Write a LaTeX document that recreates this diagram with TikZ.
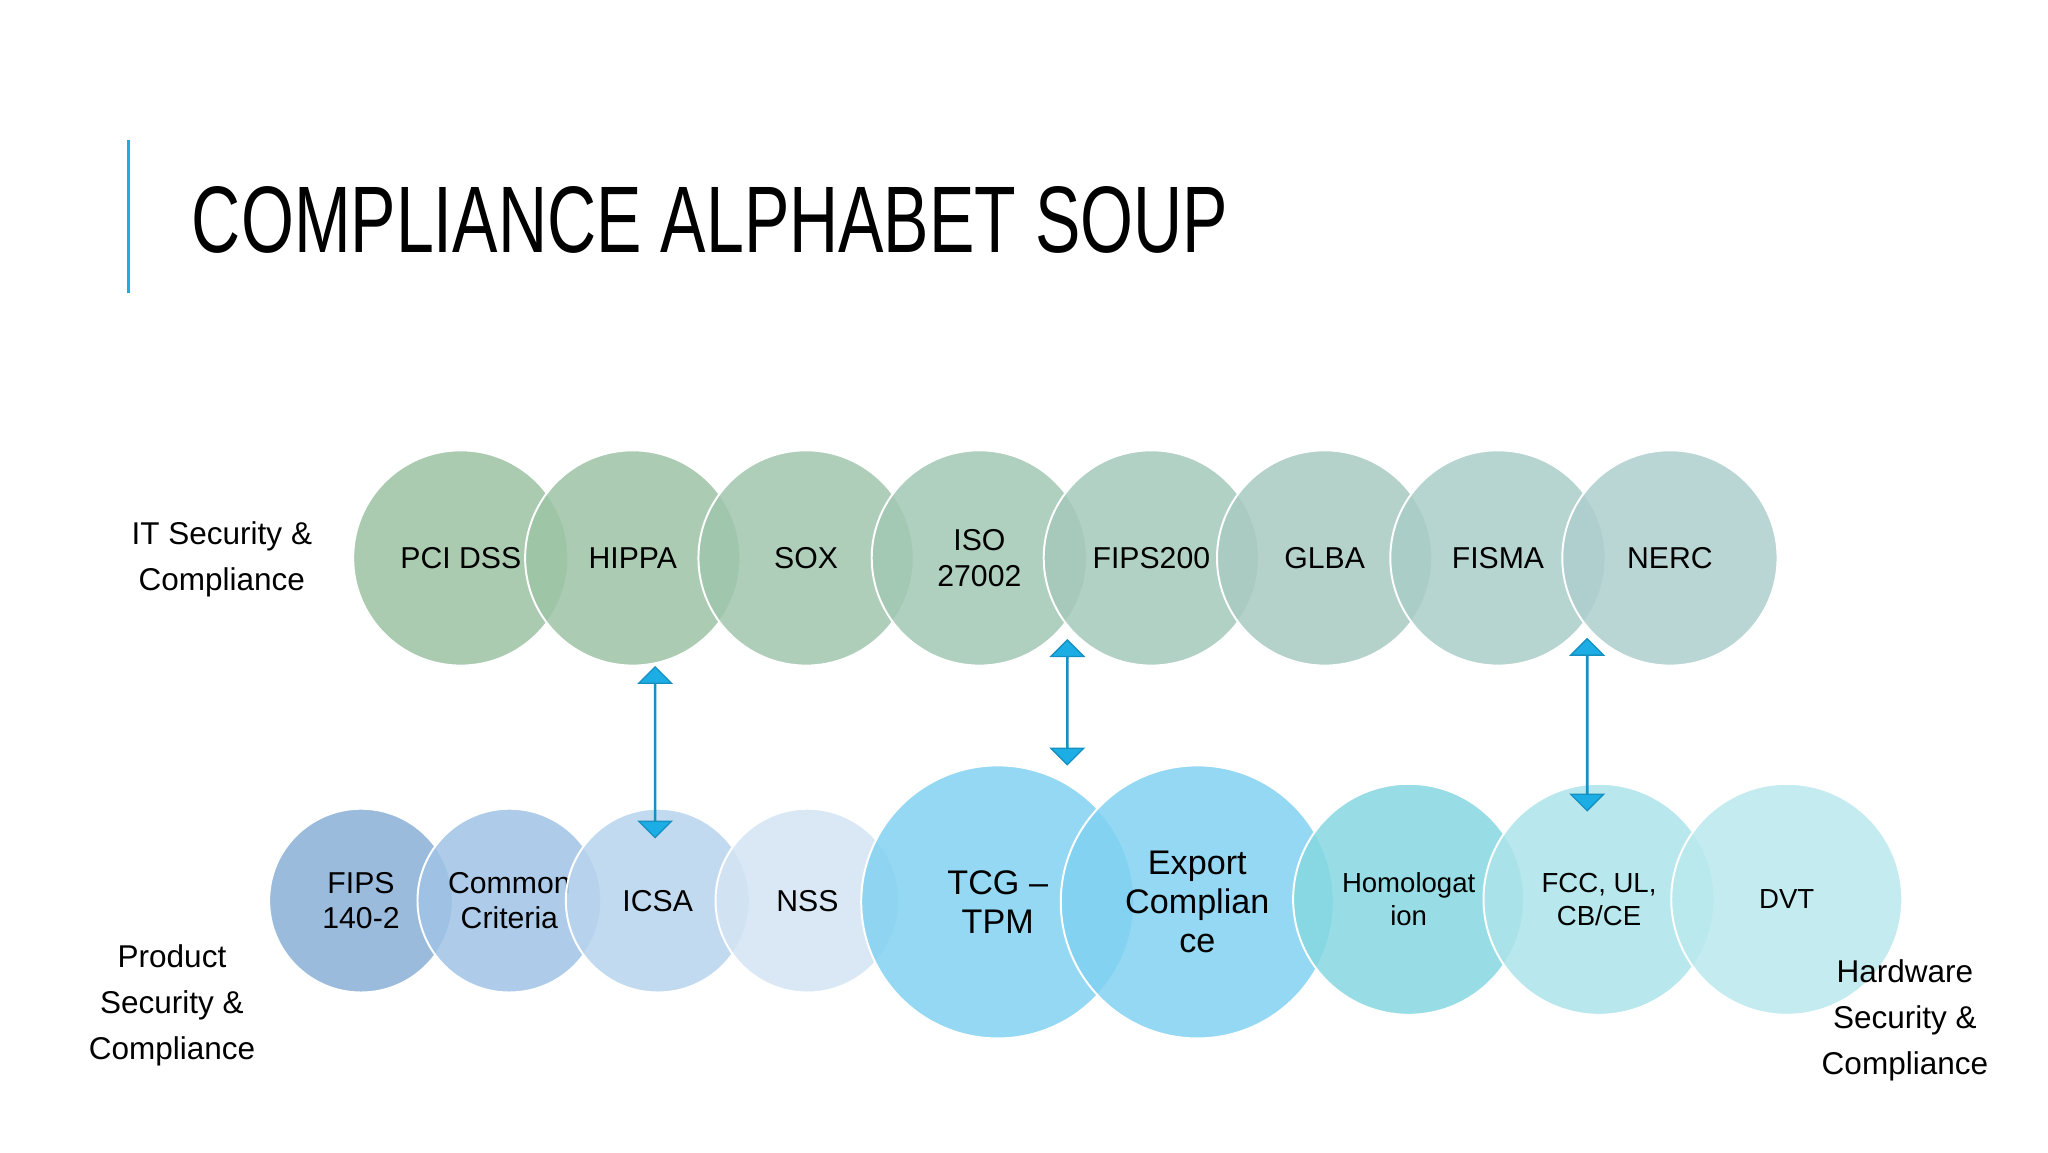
\documentclass[tikz,border=0pt]{standalone}
\usepackage{fontspec}
\setmainfont{Liberation Sans}
\usetikzlibrary{shapes.arrows}
\definecolor{arr}{HTML}{1CADE4}
\definecolor{arrd}{HTML}{1690C0}
\begin{document}
\begin{tikzpicture}[x=1pt,y=-1pt,
  circ/.style={circle,draw=white,line width=1.5pt,fill opacity=0.85,text opacity=1,align=center,font=\fontsize{23}{27}\selectfont,inner sep=0pt},
  lab/.style={align=center,font=\fontsize{24}{35}\selectfont},
  dbl/.style={draw=arrd,fill=arr,line width=1pt}]
\useasboundingbox (0,0) rectangle (1560,878);
\fill[white] (0,0) rectangle (1560,878);
\draw[arr,line width=2.5pt] (98,107) -- (98,223);
\node[anchor=base west,inner sep=0pt,font=\fontsize{72}{72}\selectfont] (title) at (146,192) {\scalebox{0.72}[1]{COMPLIANCE ALPHABET SOUP}};
% top circles
\def\R{164}
\node[circ,minimum size=\R,fill={rgb,255:red,157;green,195;blue,164}] (c1) at (351,425) {PCI DSS};
\node[circ,minimum size=\R,fill={rgb,255:red,157;green,196;blue,166}] (c2) at (482,425) {HIPPA};
\node[circ,minimum size=\R,fill={rgb,255:red,160;green,198;blue,174}] (c3) at (614,425) {SOX};
\node[circ,minimum size=\R,fill={rgb,255:red,162;green,199;blue,180}] (c4) at (746,425) {ISO\\27002};
\node[circ,minimum size=\R,fill={rgb,255:red,165;green,201;blue,187}] (c5) at (877,425) {FIPS200};
\node[circ,minimum size=\R,fill={rgb,255:red,168;green,203;blue,193}] (c6) at (1009,425) {GLBA};
\node[circ,minimum size=\R,fill={rgb,255:red,170;green,205;blue,200}] (c7) at (1141,425) {FISMA};
\node[circ,minimum size=\R,fill={rgb,255:red,173;green,207;blue,206}] (c8) at (1272,425) {NERC};
% bottom circles
\node[circ,minimum size=140,fill={rgb,255:red,138;green,176;blue,215}] (b1) at (275,686) {FIPS\\140-2};
\node[circ,minimum size=140,fill={rgb,255:red,160;green,196;blue,230}] (b2) at (388,686) {Common\\Criteria};
\node[circ,minimum size=140,fill={rgb,255:red,184;green,212;blue,238}] (b3) at (501,686) {ICSA};
\node[circ,minimum size=140,fill={rgb,255:red,212;green,228;blue,244}] (b4) at (615,686) {NSS};
\node[circ,minimum size=208,fill={rgb,255:red,130;green,210;blue,242},font=\fontsize{26}{30}\selectfont] (b5) at (760,687) {TCG –\\TPM};
\node[circ,minimum size=208,fill={rgb,255:red,130;green,210;blue,242},font=\fontsize{26}{30}\selectfont] (b6) at (912,687) {Export\\Complian\\ce};
\node[circ,minimum size=176,fill={rgb,255:red,134;green,216;blue,226},font=\fontsize{21}{25}\selectfont] (b7) at (1073,685) {Homologat\\ion};
\node[circ,minimum size=176,fill={rgb,255:red,172;green,228;blue,234},font=\fontsize{21}{25}\selectfont] (b8) at (1218,685) {FCC, UL,\\CB/CE};
\node[circ,minimum size=176,fill={rgb,255:red,186;green,233;blue,238},font=\fontsize{21}{25}\selectfont] (b9) at (1361,685) {DVT};
% labels
\node[lab] (l1) at (169,426) {IT Security \&\\Compliance};
\node[lab] (l2) at (131,766) {Product\\Security \&\\Compliance};
\node[lab] (l3) at (1451,777) {Hardware\\Security \&\\Compliance};
% arrows
\node[dbl,double arrow,double arrow head extend=12pt,rotate=90,minimum width=22pt,minimum height=130pt,inner sep=0pt] (a1) at (499,573) {};
\node[dbl,double arrow,double arrow head extend=12pt,rotate=90,minimum width=22pt,minimum height=95pt,inner sep=0pt] (a2) at (813,535) {};
\node[dbl,double arrow,double arrow head extend=12pt,rotate=90,minimum width=22pt,minimum height=131pt,inner sep=0pt] (a3) at (1209,552) {};
\end{tikzpicture}
\end{document}
